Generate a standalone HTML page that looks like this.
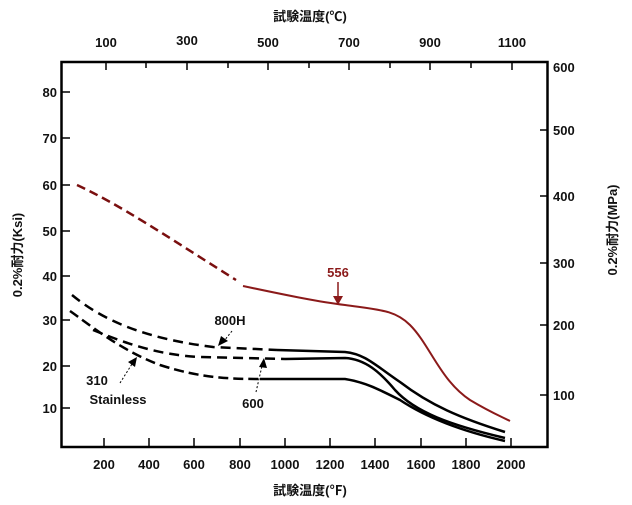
<!DOCTYPE html>
<html><head><meta charset="utf-8"><style>
html,body{margin:0;padding:0;background:#fff}
svg text{font-family:"Liberation Sans","Noto Sans CJK JP",sans-serif;font-weight:bold;font-size:13px;fill:#111}
</style></head><body>
<svg width="632" height="500" viewBox="0 0 632 500" xmlns="http://www.w3.org/2000/svg">
<rect x="61.5" y="62" width="486" height="385" fill="none" stroke="#000" stroke-width="2.5"/>
<text x="310" y="21" text-anchor="middle">試験温度(℃)</text>
<g text-anchor="middle">
<text x="106" y="47">100</text><text x="187" y="45">300</text><text x="268" y="47">500</text>
<text x="349" y="47">700</text><text x="430" y="47">900</text><text x="512" y="47">1100</text>
</g>
<g stroke="#000" stroke-width="1.5">
<line x1="106" y1="62" x2="106" y2="70"/><line x1="146" y1="62" x2="146" y2="68"/><line x1="187" y1="62" x2="187" y2="70"/><line x1="228" y1="62" x2="228" y2="68"/><line x1="268" y1="62" x2="268" y2="70"/><line x1="309" y1="62" x2="309" y2="68"/><line x1="349" y1="62" x2="349" y2="70"/><line x1="390" y1="62" x2="390" y2="68"/><line x1="430" y1="62" x2="430" y2="70"/><line x1="471" y1="62" x2="471" y2="68"/><line x1="512" y1="62" x2="512" y2="70"/>
<line x1="61" y1="92" x2="70" y2="92"/><line x1="61" y1="138" x2="70" y2="138"/><line x1="61" y1="185" x2="70" y2="185"/><line x1="61" y1="231" x2="70" y2="231"/><line x1="61" y1="276" x2="70" y2="276"/><line x1="61" y1="320" x2="70" y2="320"/><line x1="61" y1="366" x2="70" y2="366"/><line x1="61" y1="408" x2="70" y2="408"/>
<line x1="540" y1="130" x2="548" y2="130"/><line x1="540" y1="196" x2="548" y2="196"/><line x1="540" y1="263" x2="548" y2="263"/><line x1="540" y1="325" x2="548" y2="325"/><line x1="540" y1="395" x2="548" y2="395"/>
<line x1="104" y1="447" x2="104" y2="438"/><line x1="149" y1="447" x2="149" y2="438"/><line x1="194" y1="447" x2="194" y2="438"/><line x1="240" y1="447" x2="240" y2="438"/><line x1="285" y1="447" x2="285" y2="438"/><line x1="330" y1="447" x2="330" y2="438"/><line x1="375" y1="447" x2="375" y2="438"/><line x1="421" y1="447" x2="421" y2="438"/><line x1="466" y1="447" x2="466" y2="438"/><line x1="511" y1="447" x2="511" y2="438"/>
</g>
<g text-anchor="end">
<text x="57" y="97">80</text><text x="57" y="143">70</text><text x="57" y="190">60</text><text x="57" y="236">50</text><text x="57" y="281">40</text><text x="57" y="325">30</text><text x="57" y="371">20</text><text x="57" y="413">10</text>
</g>
<g text-anchor="start">
<text x="553" y="72">600</text><text x="553" y="135">500</text><text x="553" y="201">400</text><text x="553" y="268">300</text><text x="553" y="330">200</text><text x="553" y="400">100</text>
</g>
<g text-anchor="middle">
<text x="104" y="469">200</text><text x="149" y="469">400</text><text x="194" y="469">600</text><text x="240" y="469">800</text><text x="285" y="469">1000</text><text x="330" y="469">1200</text><text x="375" y="469">1400</text><text x="421" y="469">1600</text><text x="466" y="469">1800</text><text x="511" y="469">2000</text>
</g>
<text x="310" y="495" text-anchor="middle">試験温度(℉)</text>
<text transform="translate(22,255) rotate(-90)" text-anchor="middle" font-size="12">0.2%耐力(Ksi)</text>
<text transform="translate(617,230) rotate(-90)" text-anchor="middle" font-size="12">0.2%耐力(MPa)</text>
<g fill="none" stroke-width="2.5">
<path d="M77,185 C120,205 160,232 236,280" stroke="#7a0f0f" stroke-dasharray="9,5"/>
<path d="M243,286 C290,296 320,302 345,305 C380,310 395,310 410,325 C430,345 440,380 470,400 C490,412 500,416 510,421" stroke="#8b1a1a" stroke-width="2"/>
<path d="M72,295 C100,318 140,338 213,347 L277,350" stroke="#000" stroke-dasharray="10,6"/>
<path d="M277,350 L345,352 C365,354 375,365 400,382 C430,405 460,418 505,432" stroke="#000"/>
<path d="M93,330 C130,345 160,355 200,357 L285,359" stroke="#000" stroke-dasharray="10,6"/>
<path d="M285,359 L345,358 C365,359 380,372 395,390 C415,412 450,425 505,438" stroke="#000"/>
<path d="M70,311 C90,325 120,350 160,365 C200,378 230,379 260,379" stroke="#000" stroke-dasharray="10,5"/>
<path d="M260,379 L345,379 C365,382 380,390 400,400 C430,420 470,433 505,441" stroke="#000"/>
</g>
<text x="338" y="277" text-anchor="middle" style="fill:#8b1a1a">556</text>
<line x1="338" y1="282" x2="338" y2="298" stroke="#8b1a1a" stroke-width="1.5"/>
<polygon points="333,296 343,296 338,305" fill="#8b1a1a"/>
<text x="230" y="325" text-anchor="middle">800H</text>
<line x1="232" y1="331" x2="224" y2="341" stroke="#000" stroke-width="1" stroke-dasharray="2,2"/>
<polygon points="218,346 221,336 228,341" fill="#000"/>
<text x="97" y="385" text-anchor="middle">310</text>
<text x="118" y="404" text-anchor="middle">Stainless</text>
<line x1="120" y1="383" x2="132" y2="364" stroke="#000" stroke-width="1" stroke-dasharray="2,2"/>
<polygon points="137,357 135,367 128,362" fill="#000"/>
<text x="253" y="408" text-anchor="middle">600</text>
<line x1="256" y1="392" x2="262" y2="366" stroke="#000" stroke-width="1" stroke-dasharray="2,2"/>
<polygon points="264,358 267,368 259,367" fill="#000"/>
</svg>
</body></html>
